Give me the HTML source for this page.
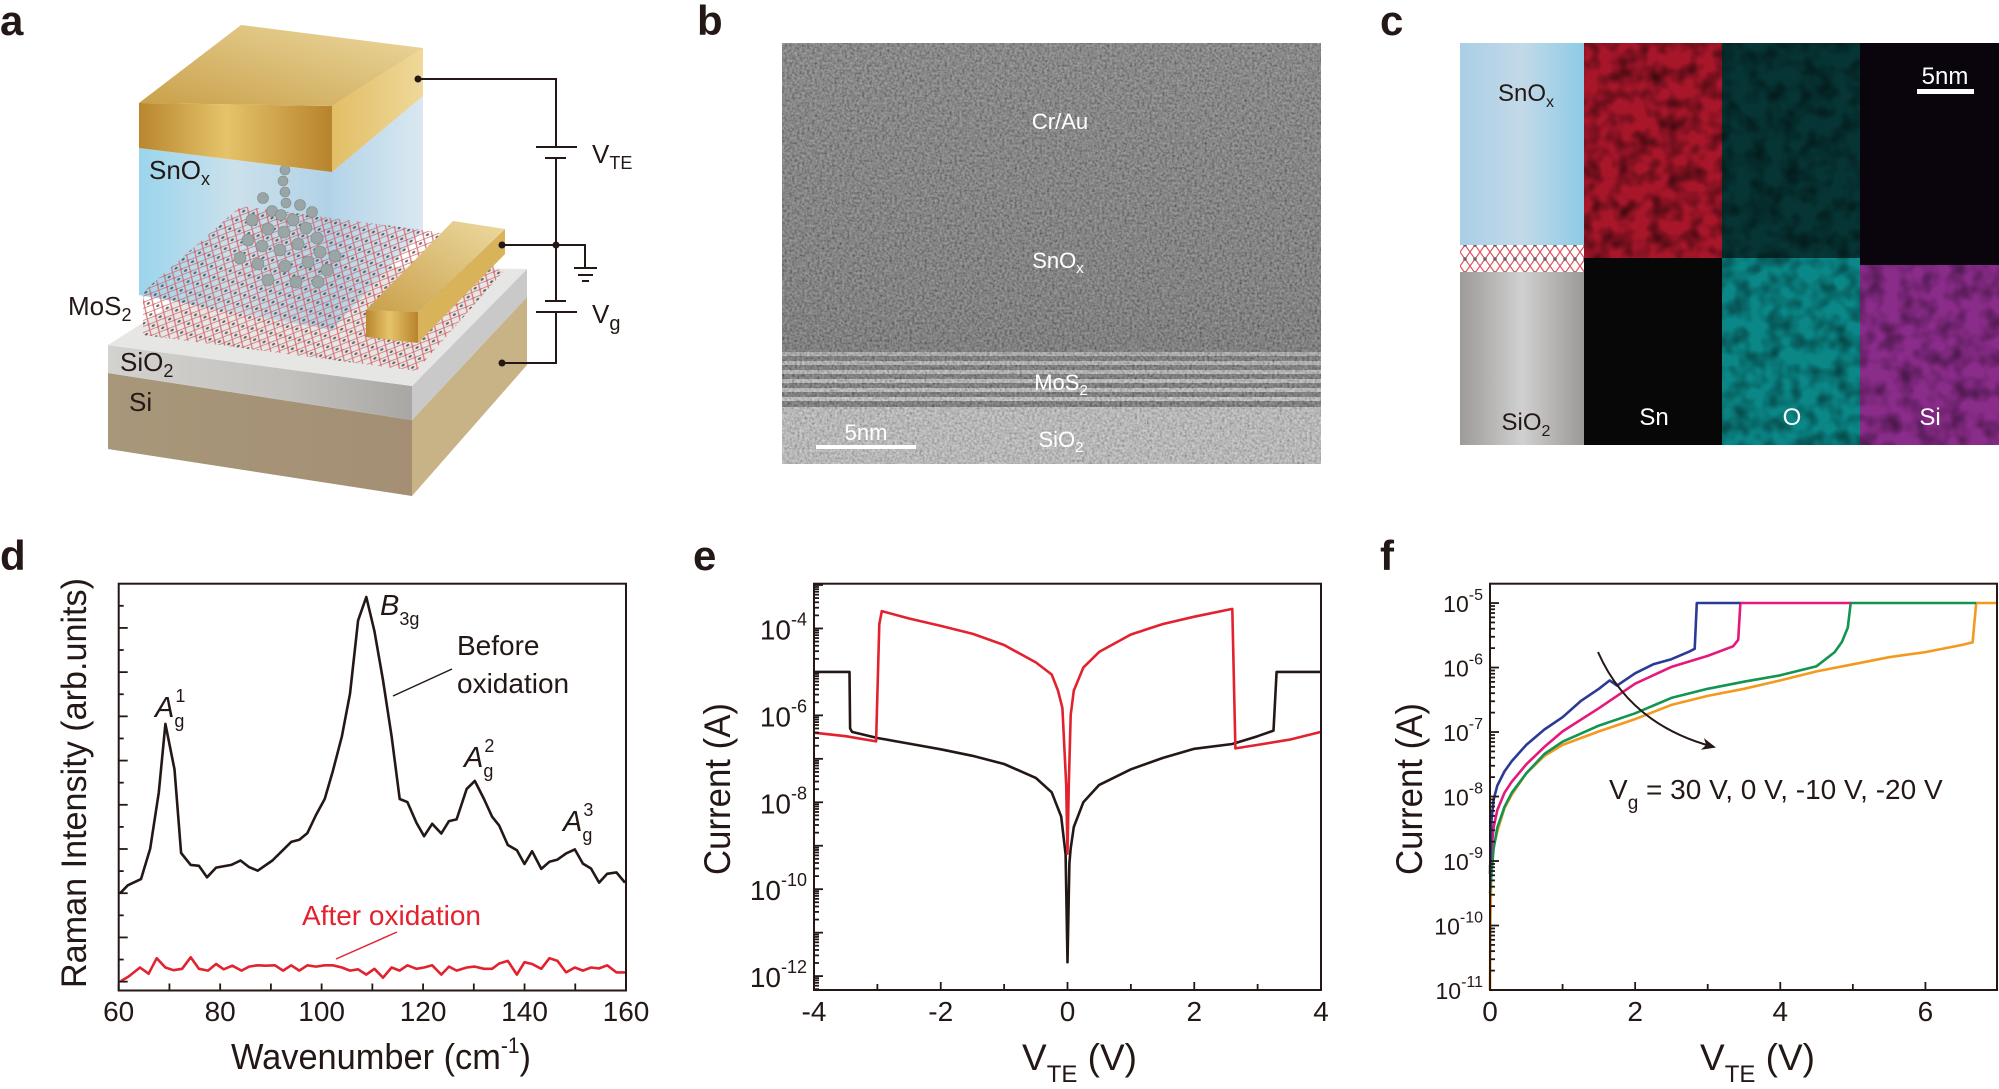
<!DOCTYPE html>
<html><head><meta charset="utf-8"><style>
html,body{margin:0;padding:0;background:#fff;}
svg{display:block;font-family:"Liberation Sans",sans-serif;}
</style></head><body>
<svg id="fig" width="1999" height="1089" viewBox="0 0 1999 1089" xmlns="http://www.w3.org/2000/svg">
<defs>
<linearGradient id="auFront" x1="0" x2="1" y1="0" y2="0"><stop offset="0" stop-color="#b8862e"/><stop offset="0.45" stop-color="#e5c36a"/><stop offset="1" stop-color="#b7832c"/></linearGradient>
<linearGradient id="auTop" x1="0" x2="1" y1="1" y2="0"><stop offset="0" stop-color="#c9a04a"/><stop offset="1" stop-color="#ecd9a0"/></linearGradient>
<linearGradient id="auRight" x1="0" x2="1"><stop offset="0" stop-color="#e2be66"/><stop offset="1" stop-color="#efd89a"/></linearGradient>
<linearGradient id="blueF" x1="0" x2="1"><stop offset="0" stop-color="#8fd0ea"/><stop offset="0.5" stop-color="#c6dde9"/><stop offset="1" stop-color="#a7cde3"/></linearGradient>
<linearGradient id="blueR" x1="0" x2="1"><stop offset="0" stop-color="#a6cde4"/><stop offset="1" stop-color="#d3e4ee"/></linearGradient>
<linearGradient id="sio2F" x1="0" x2="1"><stop offset="0" stop-color="#d4d2cf"/><stop offset="0.6" stop-color="#c3c1bd"/><stop offset="1" stop-color="#a9a7a4"/></linearGradient>
<linearGradient id="siF" x1="0" x2="1"><stop offset="0" stop-color="#a8977a"/><stop offset="1" stop-color="#a48f74"/></linearGradient>
<linearGradient id="cBlue" x1="0" x2="1"><stop offset="0" stop-color="#a9cfe6"/><stop offset="0.5" stop-color="#c3d9e8"/><stop offset="1" stop-color="#8ccbe6"/></linearGradient>
<linearGradient id="cGrey" x1="0" x2="1"><stop offset="0" stop-color="#9d9a98"/><stop offset="0.5" stop-color="#d0d0d0"/><stop offset="1" stop-color="#9c9997"/></linearGradient>
<linearGradient id="temG" x1="0" x2="0" y1="0" y2="1">
<stop offset="0" stop-color="#5f5f5f"/><stop offset="0.6" stop-color="#545454"/><stop offset="0.72" stop-color="#4f4f4f"/><stop offset="1" stop-color="#4f4f4f"/></linearGradient>
<filter id="noise" x="0" y="0" width="100%" height="100%"><feTurbulence type="fractalNoise" baseFrequency="0.4" numOctaves="2" seed="3"/><feColorMatrix type="matrix" values="1.2 0 0 0 -0.1 1.2 0 0 0 -0.1 1.2 0 0 0 -0.1 0 0 0 0 0.45"/></filter>
<filter id="blotch" x="0" y="0" width="100%" height="100%"><feTurbulence type="fractalNoise" baseFrequency="0.06" numOctaves="2" seed="7"/><feColorMatrix type="matrix" values="0 0 0 0 0 0 0 0 0 0 0 0 0 0 0 0 0 0 1.2 -0.45"/></filter>
<pattern id="lattice" width="11" height="9" patternUnits="userSpaceOnUse" patternTransform="skewX(-30) rotate(12)">
<path d="M0 4.5 L5.5 0 L11 4.5 M0 4.5 L5.5 9 L11 4.5" stroke="#d46a6f" stroke-width="1" fill="none"/>
<circle cx="5.5" cy="4.5" r="1.4" fill="#555"/><circle cx="0" cy="4.5" r="1.2" fill="#d24a55"/>
</pattern>
<pattern id="lattice2" width="10" height="14" patternUnits="userSpaceOnUse">
<path d="M0 0 L5 7 L10 0 M0 14 L5 7 L10 14" stroke="#d9545e" stroke-width="1.2" fill="none"/><circle cx="5" cy="7" r="1.8" fill="#666"/></pattern>
</defs>

<g font-weight="bold" font-size="42" fill="#231815">
<text x="0" y="35">a</text>
<text x="697" y="35">b</text>
<text x="1380" y="35">c</text>
<text x="0" y="570">d</text>
<text x="693" y="570">e</text>
<text x="1380" y="570">f</text>
</g>

<g>
<polygon points="412,420 527,297 527,365 412,496" fill="#c8b386"/>
<polygon points="108,373 412,420 412,496 108,449" fill="url(#siF)"/>
<polygon points="412,386 527,269 527,297 412,420" fill="#c9c9c9"/>
<polygon points="108,345 412,386 412,420 108,373" fill="url(#sio2F)"/>
<polygon points="108,345 234,265 527,269 412,386" fill="#e6e6e4"/>
<polygon points="139,148 332,172 332,330 139,295" fill="url(#blueF)" opacity="0.9"/>
<polygon points="332,172 423,96 423,230 332,330" fill="url(#blueR)" opacity="0.85"/>
<polygon points="143,292 241,206 438,232 503,272 416,371 143,335" fill="url(#lattice)" opacity="0.9"/>
<g fill="#9aa5a5" stroke="#7d8888" stroke-width="0.6">
<circle cx="285" cy="170" r="5"/><circle cx="283" cy="181" r="5"/><circle cx="285" cy="192" r="5"/><circle cx="286" cy="203" r="5"/><circle cx="263" cy="198" r="5.5"/><circle cx="272" cy="211" r="5.5"/><circle cx="300" cy="205" r="5.5"/><circle cx="312" cy="212" r="5.5"/><circle cx="281" cy="215" r="5.5"/><circle cx="293" cy="220" r="6"/><circle cx="252" cy="220" r="6"/><circle cx="268" cy="229" r="6"/><circle cx="284" cy="232" r="6"/><circle cx="306" cy="228" r="6"/><circle cx="317" cy="238" r="6"/><circle cx="248" cy="240" r="6"/><circle cx="262" cy="246" r="6"/><circle cx="280" cy="250" r="6"/><circle cx="298" cy="244" r="6"/><circle cx="320" cy="252" r="6"/><circle cx="240" cy="258" r="6"/><circle cx="258" cy="264" r="6"/><circle cx="285" cy="266" r="6"/><circle cx="308" cy="262" r="6"/><circle cx="327" cy="270" r="6"/><circle cx="268" cy="280" r="6"/><circle cx="296" cy="282" r="6"/><circle cx="318" cy="282" r="6"/><circle cx="335" cy="256" r="6"/>
</g>
<polygon points="139,103 332,106 332,172 139,148" fill="url(#auFront)"/>
<polygon points="332,106 423,48 423,96 332,172" fill="url(#auRight)"/>
<polygon points="241,25 423,48 332,106 139,103" fill="url(#auTop)"/>
<polygon points="366,310 418,312 418,343 366,337" fill="url(#auFront)"/>
<polygon points="418,312 505,229 505,254 418,343" fill="#d9b35a"/>
<polygon points="453,221 505,229 418,312 366,310" fill="url(#auTop)"/>
<g stroke="#231815" stroke-width="2" fill="none">
<polyline points="418,79 556,79 556,147"/><line x1="536" y1="147" x2="577" y2="147"/><line x1="545" y1="158" x2="566" y2="158"/>
<line x1="556" y1="158" x2="556" y2="301"/><polyline points="502,245 585,245 585,268"/>
<line x1="574" y1="268" x2="597" y2="268"/><line x1="578" y1="275" x2="593" y2="275"/><line x1="582" y1="281" x2="589" y2="281"/>
<line x1="545" y1="301" x2="566" y2="301"/><line x1="536" y1="312" x2="577" y2="312"/><polyline points="556,312 556,363 502,363"/>
</g>
<g fill="#231815"><circle cx="418" cy="79" r="3.5"/><circle cx="502" cy="245" r="3.5"/><circle cx="556" cy="245" r="3.5"/><circle cx="502" cy="363" r="3.5"/></g>
<g fill="#231815" font-size="26">
<text x="592" y="163">V<tspan font-size="18" dy="6">TE</tspan></text>
<text x="592" y="323">V<tspan font-size="20" dy="7">g</tspan></text>
<text x="149" y="179">SnO<tspan font-size="18" dy="6">x</tspan></text>
<text x="68" y="315">MoS<tspan font-size="18" dy="6">2</tspan></text>
<text x="120" y="371">SiO<tspan font-size="18" dy="6">2</tspan></text>
<text x="129" y="411">Si</text>
</g>
</g>

<g>
<rect x="782" y="43" width="539" height="421" fill="url(#temG)"/>
<g>
<rect x="782" y="352" width="539" height="4" fill="#9a9a9a"/><rect x="782" y="361" width="539" height="4" fill="#a5a5a5"/><rect x="782" y="370" width="539" height="4" fill="#aaaaaa"/><rect x="782" y="379" width="539" height="4" fill="#b0b0b0"/><rect x="782" y="388" width="539" height="4" fill="#b3b3b3"/><rect x="782" y="397" width="539" height="4" fill="#b8b8b8"/>
</g>
<rect x="782" y="407" width="539" height="57" fill="#b3b3b3"/>
<rect x="782" y="43" width="539" height="421" filter="url(#noise)"/>
<g fill="#fff" font-size="22" text-anchor="middle">
<text x="1060" y="129">Cr/Au</text>
<text x="1058" y="268">SnO<tspan font-size="15" dy="5">x</tspan></text>
<text x="1061" y="390">MoS<tspan font-size="15" dy="5">2</tspan></text>
<text x="1061" y="447">SiO<tspan font-size="15" dy="5">2</tspan></text>
<text x="866" y="440">5nm</text>
</g>
<rect x="816" y="445" width="100" height="4" fill="#fff"/>
</g>

<g>
<rect x="1460" y="43" width="124" height="202" fill="url(#cBlue)"/>
<rect x="1460" y="245" width="124" height="27" fill="#fff"/>
<rect x="1460" y="245" width="124" height="27" fill="url(#lattice2)"/>
<rect x="1460" y="272" width="124" height="173" fill="url(#cGrey)"/>
<rect x="1584" y="43" width="138" height="215" fill="#a8162a"/>
<rect x="1584" y="258" width="138" height="187" fill="#070707"/>
<rect x="1584" y="43" width="138" height="215" filter="url(#blotch)"/>
<rect x="1722" y="43" width="138" height="215" fill="#073535"/>
<rect x="1722" y="258" width="138" height="187" fill="#0b8787"/>
<rect x="1722" y="43" width="138" height="402" filter="url(#blotch)" opacity="0.8"/>
<rect x="1860" y="43" width="139" height="222" fill="#0a050c"/>
<rect x="1860" y="265" width="139" height="180" fill="#8a2c8a"/>
<rect x="1860" y="265" width="139" height="180" filter="url(#blotch)" opacity="0.7"/>
<rect x="1917" y="89" width="57" height="5" fill="#fff"/>
<g font-size="24" text-anchor="middle">
<text x="1526" y="101" fill="#231815">SnO<tspan font-size="16" dy="6">x</tspan></text>
<text x="1526" y="430" fill="#231815">SiO<tspan font-size="16" dy="6">2</tspan></text>
<text x="1654" y="425" fill="#fff">Sn</text>
<text x="1792" y="425" fill="#fff">O</text>
<text x="1930" y="425" fill="#fff">Si</text>
<text x="1945" y="84" fill="#fff">5nm</text>
</g>
</g>

<g id="charts"></g>
</svg>
<script>
const ramanX = [60.3,61.8,64.4,66.2,67.9,69.2,71.0,72.3,74.2,75.8,77.4,79.2,82.2,84.0,85.7,87.4,90.3,92.5,94.0,95.6,97.2,98.9,100.6,102.2,104.0,105.6,107.2,108.8,110.4,112.1,113.8,115.4,116.9,118.7,120.2,121.8,123.6,125.1,126.6,128.6,130.2,132.0,133.6,135.0,136.7,138.5,140.0,141.5,143.3,144.9,146.5,148.2,149.9,151.5,153.1,154.7,156.3,158.1,159.8];
const ramanBefore = [2.2,2.38,2.52,3.21,4.48,6.03,5.0,3.11,2.84,2.82,2.56,2.78,2.84,2.94,2.79,2.71,2.94,3.19,3.36,3.41,3.56,3.97,4.33,4.96,5.75,6.71,8.37,8.9,8.13,7.02,5.75,4.33,4.26,3.79,3.49,3.77,3.55,3.83,3.87,4.56,4.74,4.33,3.93,3.73,3.29,3.17,2.86,3.15,2.75,2.91,2.96,3.10,3.19,2.87,2.76,2.44,2.64,2.67,2.44];
const ramanAfterX = [60.4,62,64.2,65.9,67.5,69.2,70.8,72.5,74.2,75.8,77.6,79.2,80.7,82.4,84.2,85.7,87.4,89,90.8,92.4,94,95.6,97.2,98.9,100.6,102.2,104,105.6,107.2,108.8,110.4,112.1,113.8,115.4,116.9,118.7,120.2,121.8,123.6,125.1,126.6,128.6,130.2,132,133.6,135,136.7,138.5,140,141.5,143.3,144.9,146.5,148.2,149.9,151.5,153.1,154.7,156.3,158.1,159.8];
const ramanAfter = [0.21,0.32,0.52,0.38,0.73,0.52,0.46,0.49,0.75,0.49,0.45,0.6,0.48,0.56,0.45,0.54,0.57,0.56,0.57,0.45,0.57,0.45,0.57,0.54,0.57,0.57,0.52,0.45,0.48,0.36,0.49,0.29,0.52,0.45,0.57,0.49,0.52,0.57,0.36,0.54,0.45,0.52,0.54,0.49,0.49,0.61,0.67,0.36,0.64,0.6,0.49,0.73,0.67,0.41,0.52,0.45,0.52,0.5,0.57,0.41,0.41];
const dXTicks = [60,80,100,120,140,160];
const dXMinor = [70,90,110,130,150];
const dYMajor = [0.2,1.2,2.2,3.2,4.2,5.2,6.2,7.2,8.2];
const dYMinor = [0.7,1.7,2.7,3.7,4.7,5.7,6.7,7.7,8.7];

const eBlackV = [-4,-3.44,-3.43,-3.4,-3,-2.5,-2,-1.5,-1,-0.5,-0.25,-0.1,-0.03,0,0.03,0.05,0.1,0.25,0.5,1,1.5,2,2.6,3,3.25,3.3,4];
const eBlackLogI = [-5,-5,-6.3,-6.38,-6.52,-6.65,-6.78,-6.93,-7.12,-7.44,-7.77,-8.33,-9.2,-11.68,-9.4,-9.06,-8.57,-8.0,-7.6,-7.24,-6.98,-6.77,-6.66,-6.48,-6.35,-5,-5];
const eRedV = [-4,-3.5,-3.02,-2.97,-2.93,-2.5,-2,-1.5,-1,-0.5,-0.25,-0.15,-0.08,-0.02,0,0.02,0.05,0.1,0.25,0.5,1,1.5,2,2.6,2.65,3,3.5,4];
const eRedLogI = [-6.4,-6.48,-6.6,-3.9,-3.6,-3.77,-3.94,-4.12,-4.38,-4.78,-5.06,-5.43,-5.83,-7.6,-9.18,-7.6,-5.99,-5.43,-4.9,-4.54,-4.14,-3.9,-3.73,-3.55,-6.76,-6.68,-6.56,-6.38];
const eXTicks = [-4,-2,0,2,4];
const eXMinor = [-3,-1,1,3];
const eYLabels = [-4,-6,-8,-10,-12];

const fBlueV = [0,0.02,0.05,0.1,0.2,0.3,0.5,0.75,1,1.25,1.5,1.65,1.75,2,2.25,2.5,2.75,2.82,2.85,3.45];
const fBlueLogI = [-9.2,-8.37,-8.05,-7.83,-7.61,-7.45,-7.2,-6.96,-6.77,-6.52,-6.33,-6.2,-6.28,-6.09,-5.95,-5.87,-5.75,-5.71,-5,-5];
const fPinkV = [0,0.02,0.05,0.1,0.2,0.3,0.5,0.75,1,1.5,2,2.5,3,3.35,3.42,3.45,4.97];
const fPinkLogI = [-9.1,-8.81,-8.48,-8.21,-7.94,-7.77,-7.5,-7.23,-6.99,-6.63,-6.25,-5.99,-5.82,-5.67,-5.57,-5,-5];
const fGreenV = [0,0.02,0.05,0.1,0.2,0.3,0.5,0.75,1,1.5,2,2.5,3,3.5,4,4.5,4.75,4.85,4.93,4.97,6.7];
const fGreenLogI = [-9.5,-9.19,-8.81,-8.48,-8.16,-7.94,-7.64,-7.34,-7.15,-6.9,-6.71,-6.47,-6.33,-6.22,-6.12,-5.98,-5.76,-5.6,-5.38,-5,-5];
const fOrangeV = [0,0.005,0.02,0.1,0.2,0.3,0.5,0.75,1,1.5,2,2.5,3,3.5,4,4.5,5,5.5,6,6.5,6.65,6.7,7];
const fOrangeLogI = [-11,-10,-8.92,-8.54,-8.18,-7.97,-7.64,-7.37,-7.2,-6.99,-6.8,-6.58,-6.44,-6.33,-6.2,-6.06,-5.95,-5.84,-5.76,-5.65,-5.61,-5,-5];
const fXTicks = [0,2,4,6];
const fXMinor = [1,3,5];
const fYLabels = [-5,-6,-7,-8,-9,-10,-11];

const NS = 'http://www.w3.org/2000/svg';
const root = document.getElementById('charts');
const INK = '#231815';
function mk(tag, attrs, parent) {
  const el = document.createElementNS(NS, tag);
  for (const k in attrs) el.setAttribute(k, attrs[k]);
  (parent || root).appendChild(el);
  return el;
}
function poly(xs, ys, fx, fy, color, name, parent) {
  const pts = xs.map((v, i) => fx(v).toFixed(1) + ',' + fy(ys[i]).toFixed(1)).join(' ');
  const el = mk('polyline', {points: pts, fill: 'none', stroke: color, 'stroke-width': 2.6, 'stroke-linejoin': 'round'}, parent);
  
  
  return el;
}
function line(x1, y1, x2, y2, parent) {
  return mk('line', {x1, y1, x2, y2, stroke: INK, 'stroke-width': 1.8}, parent);
}

const dL = 118.7, dR = 626, dT = 583.7, dB = 990.5;
const xd = v => dL + (v - 60) / 100 * (dR - dL);
const yd = u => dB - u / 9.2 * (dB - dT);
const gd = mk('g', {});


poly(ramanX, ramanBefore, xd, yd, INK, 'before-oxidation-line', gd);
poly(ramanAfterX, ramanAfter, xd, yd, '#e2232f', 'after-oxidation-line', gd);
dXTicks.forEach(v => {
  line(xd(v), dB, xd(v), dB - 7, gd);
  const t = mk('text', {x: xd(v), y: 1021, 'font-size': 28, 'text-anchor': 'middle', fill: INK}, gd);
  t.textContent = v;
  
  
});
dXMinor.forEach(v => line(xd(v), dB, xd(v), dB - 7, gd));
dYMajor.forEach(u => line(dL, yd(u), dL + 9, yd(u), gd));
dYMinor.forEach(u => line(dL, yd(u), dL + 5, yd(u), gd));
const dBox = mk('rect', {x: dL, y: dT, width: dR - dL, height: dB - dT, fill: 'none', stroke: INK, 'stroke-width': 2}, gd);



const eL = 814, eR = 1321, eT = 583.7, eB = 990;
const xe = v => eL + (v + 4) / 8 * (eR - eL);
const ye = l => eT + (-2.97 - l) / 9.35 * (eB - eT);
const ge = mk('g', {});


poly(eBlackV, eBlackLogI, xe, ye, INK, 'black-iv-curve', ge);
poly(eRedV, eRedLogI, xe, ye, '#e2232f', 'red-iv-curve', ge);
for (let d = -12; d <= -3; d++) {
  line(eL, ye(d), eL + 9, ye(d), ge);
  for (let m = 2; m <= 9; m++) {
    const l = d + Math.log10(m);
    if (l < -2.97) line(eL, ye(l), eL + 5, ye(l), ge);
  }
}
for (let m = 5; m <= 9; m++) line(eL, ye(-13 + Math.log10(m)), eL + 5, ye(-13 + Math.log10(m)), ge);
eXTicks.forEach(v => {
  line(xe(v), eB, xe(v), eB - 8, ge);
  const t = mk('text', {x: xe(v), y: 1021, 'font-size': 28, 'text-anchor': 'middle', fill: INK}, ge);
  t.textContent = v;
  
  
});
eXMinor.forEach(v => line(xe(v), eB, xe(v), eB - 6, ge));
eYLabels.forEach(p => {
  const t = mk('text', {x: 807, y: ye(p) + 11, 'font-size': 28, 'text-anchor': 'end', fill: INK}, ge);
  t.innerHTML = '10<tspan font-size="18" dy="-14">' + p + '</tspan>';
  
  
});
const eBox = mk('rect', {x: eL, y: eT, width: eR - eL, height: eB - eT, fill: 'none', stroke: INK, 'stroke-width': 2}, ge);



const fL = 1490, fR = 1998, fT = 583.7, fB = 990;
const xf = v => fL + v / 7 * (fR - fL);
const yf = l => fT + (-4.7 - l) / 6.3 * (fB - fT);
const gf = mk('g', {});


poly(fOrangeV, fOrangeLogI, xf, yf, '#f39a1e', 'vg-minus20-curve', gf);
poly(fGreenV, fGreenLogI, xf, yf, '#129452', 'vg-minus10-curve', gf);
poly(fPinkV, fPinkLogI, xf, yf, '#e5197c', 'vg-0-curve', gf);
poly(fBlueV, fBlueLogI, xf, yf, '#2b3a93', 'vg-30-curve', gf);
for (let d = -11; d <= -5; d++) {
  line(fL, yf(d), fL + 9, yf(d), gf);
  for (let m = 2; m <= 9; m++) {
    const l = d + Math.log10(m);
    if (l < -4.7) line(fL, yf(l), fL + 5, yf(l), gf);
  }
}
fXTicks.forEach(v => {
  line(xf(v), fB, xf(v), fB - 8, gf);
  const t = mk('text', {x: xf(v), y: 1021, 'font-size': 28, 'text-anchor': 'middle', fill: INK}, gf);
  t.textContent = v;
  
  
});
fXMinor.forEach(v => line(xf(v), fB, xf(v), fB - 6, gf));
fYLabels.forEach(p => {
  const t = mk('text', {x: 1483, y: yf(p) + 9, 'font-size': 23, 'text-anchor': 'end', fill: INK}, gf);
  t.innerHTML = '10<tspan font-size="16" dy="-12">' + p + '</tspan>';
  
  
});
const fBox = mk('rect', {x: fL, y: fT, width: fR - fL - 1, height: fB - fT, fill: 'none', stroke: INK, 'stroke-width': 2}, gf);


</script>

<svg width="1999" height="1089" viewBox="0 0 1999 1089" style="position:absolute;left:0;top:0;font-family:'Liberation Sans',sans-serif" xmlns="http://www.w3.org/2000/svg">
<defs><marker id="ah2" markerWidth="14" markerHeight="12" refX="12" refY="6" orient="auto" markerUnits="userSpaceOnUse"><path d="M0 0 L14 6 L0 12 L4 6Z" fill="#231815"/></marker></defs>
<g fill="#231815">
<text x="74" y="783" font-size="35" text-anchor="middle" transform="rotate(-90 74 783)" textLength="410" lengthAdjust="spacingAndGlyphs" dy="12">Raman Intensity (arb.units)</text>
<text x="231" y="1069" font-size="36" textLength="300" lengthAdjust="spacingAndGlyphs">Wavenumber (cm<tspan font-size="22" dy="-16">-1</tspan><tspan dy="16">)</tspan></text>
<text x="155" y="717" font-size="29" font-style="italic">A<tspan font-size="18" font-style="normal" dy="10">g</tspan><tspan font-size="18" font-style="normal" dx="-9" dy="-25">1</tspan></text>
<text x="380" y="615" font-size="29" font-style="italic">B<tspan font-size="18" font-style="normal" dy="10">3g</tspan></text>
<text x="464" y="767" font-size="29" font-style="italic">A<tspan font-size="18" font-style="normal" dy="10">g</tspan><tspan font-size="18" font-style="normal" dx="-9" dy="-25">2</tspan></text>
<text x="563" y="831" font-size="29" font-style="italic">A<tspan font-size="18" font-style="normal" dy="10">g</tspan><tspan font-size="18" font-style="normal" dx="-9" dy="-25">3</tspan></text>
<text x="457" y="655" font-size="28">Before</text>
<text x="457" y="693" font-size="28">oxidation</text>
<text x="302" y="925" font-size="28" fill="#e2232f">After oxidation</text>
<text x="717" y="789" font-size="37" text-anchor="middle" transform="rotate(-90 717 789)" dy="13" textLength="172" lengthAdjust="spacingAndGlyphs">Current (A)</text>
<text x="1022" y="1070" font-size="37">V<tspan font-size="24" dy="12">TE</tspan><tspan dy="-12"> (V)</tspan></text>
<text x="1409" y="789" font-size="37" text-anchor="middle" transform="rotate(-90 1409 789)" dy="13" textLength="172" lengthAdjust="spacingAndGlyphs">Current (A)</text>
<text x="1700" y="1070" font-size="37">V<tspan font-size="24" dy="12">TE</tspan><tspan dy="-12"> (V)</tspan></text>
<text x="1609" y="799" font-size="28">V<tspan font-size="19" dy="10">g</tspan><tspan dy="-10"> = 30 V, 0 V, -10 V, -20 V</tspan></text>
</g>
<g stroke="#231815" stroke-width="1.5" fill="none">
<line x1="452" y1="669" x2="393" y2="696"/>
<line x1="397" y1="932" x2="336" y2="959" stroke="#e2232f"/>
<path d="M1598 652 Q1630 725 1714 747" stroke-width="2" marker-end="url(#ah2)"/>
</g>
</svg>
</body></html>
